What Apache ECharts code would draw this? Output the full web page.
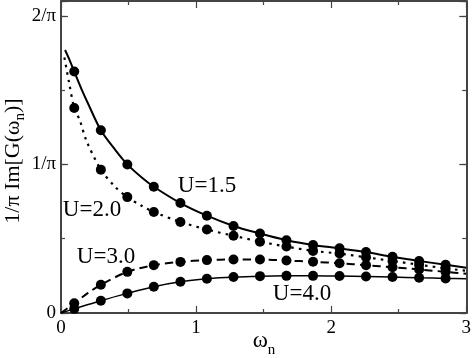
<!DOCTYPE html>
<html><head><meta charset="utf-8">
<script src="https://cdn.jsdelivr.net/npm/echarts@6/dist/echarts.min.js"></script>
<style>html,body{margin:0;padding:0;background:#fff}#c{width:474px;height:358px}</style>
</head><body><div id="c"></div>
<script>
// Matsubara frequencies of the dots
const wn = [0.098,0.295,0.491,0.687,0.884,1.080,1.277,1.473,1.669,1.866,2.062,2.258,2.454,2.651,2.847];
// dot values (units of 1/pi)
const dotsU15 = [1.625,1.23,1.0,0.85,0.74,0.655,0.586,0.535,0.49,0.458,0.435,0.41,0.378,0.35,0.325];
const dotsU20 = [1.38,0.965,0.78,0.68,0.613,0.562,0.52,0.48,0.447,0.418,0.40,0.375,0.35,0.325,0.30];
const dotsU30 = [0.065,0.19,0.277,0.322,0.344,0.356,0.36,0.36,0.353,0.345,0.335,0.322,0.308,0.293,0.277];
const dotsU40 = [0.028,0.083,0.132,0.177,0.21,0.23,0.242,0.248,0.25,0.25,0.249,0.246,0.242,0.237,0.233];
// continuous curves
const lineU15x = [0.03,0.06,0.098,0.15,0.2,0.295,0.4,0.491,0.6,0.687,0.884,1.08,1.277,1.473,1.669,1.866,2.062,2.258,2.454,2.651,2.847,3.0];
const lineU15y = [1.77,1.71,1.625,1.51,1.41,1.23,1.1,1.0,0.91,0.85,0.74,0.655,0.586,0.535,0.49,0.458,0.435,0.41,0.378,0.35,0.325,0.305];
const lineU20x = [0.025,0.06,0.098,0.14,0.188,0.295,0.4,0.491,0.6,0.687,0.884,1.08,1.277,1.473,1.669,1.866,2.062,2.258,2.454,2.651,2.847,3.0];
const lineU20y = [1.72,1.55,1.38,1.295,1.16,0.965,0.85,0.78,0.72,0.68,0.613,0.562,0.52,0.48,0.447,0.418,0.40,0.375,0.35,0.325,0.30,0.285];
const lineU30x = [0,0.098,0.2,0.295,0.491,0.687,0.884,1.08,1.277,1.473,1.669,1.866,2.062,2.258,2.454,2.651,2.847,3.0];
const lineU30y = [0,0.065,0.135,0.19,0.277,0.322,0.344,0.356,0.36,0.36,0.353,0.345,0.335,0.322,0.308,0.293,0.277,0.264];
const lineU40x = [0,0.098,0.295,0.491,0.687,0.884,1.08,1.277,1.473,1.669,1.866,2.062,2.258,2.454,2.651,2.847,3.0];
const lineU40y = [0,0.028,0.083,0.132,0.177,0.21,0.23,0.242,0.248,0.25,0.25,0.249,0.246,0.242,0.237,0.233,0.23];
const xTicks = ['0','1','2','3'];
const yTicks = ['0','1/π','2/π'];
const labels = [
  {text:'U=1.5', x:207, y:186},
  {text:'U=2.0', x:92, y:210},
  {text:'U=3.0', x:106, y:257},
  {text:'U=4.0', x:302, y:294}
];
const yTitle = ['1/π Im[G(ω', 'n', ')]'];
const xTitle = ['ω', 'n', ''];

const FONT = '"Liberation Serif","DejaVu Serif",serif';
const AX = '#444';
const zip = (a,b) => a.map((v,i)=>[v,b[i]]);

const mctx = document.createElement('canvas').getContext('2d');
function tw(t, size){ mctx.font = size+'px '+FONT; return mctx.measureText(t).width; }
// build [main, sub, main] pieces centered at (cx,cy), rotated
function subTitle(parts, cx, cy, rot, size, subSize, drop){
  const w0 = tw(parts[0],size), w1 = tw(parts[1],subSize), w2 = tw(parts[2],size);
  const total = w0+w1+w2;
  let x = -total/2;
  const kids = [];
  kids.push({type:'text', x:x, y:0, style:{text:parts[0], font:size+'px '+FONT, fill:'#000', align:'left', verticalAlign:'middle'}});
  x += w0;
  kids.push({type:'text', x:x, y:drop, style:{text:parts[1], font:subSize+'px '+FONT, fill:'#000', align:'left', verticalAlign:'middle'}});
  x += w1;
  if (parts[2]) kids.push({type:'text', x:x, y:0, style:{text:parts[2], font:size+'px '+FONT, fill:'#000', align:'left', verticalAlign:'middle'}});
  return {type:'group', x:cx, y:cy, rotation:rot, children:kids};
}

const chart = echarts.init(document.getElementById('c'), null, {renderer:'canvas'});
const baseX = {
  type:'value', min:0, max:3, interval:1,
  splitLine:{show:false},
  axisLine:{show:true, onZero:false, lineStyle:{color:AX, width:2}},
  axisTick:{show:true, inside:true, length:7, lineStyle:{color:AX, width:1.2}},
  minorTick:{show:true, splitNumber:2, length:4, lineStyle:{color:AX, width:1.2}},
  minorSplitLine:{show:false}
};
const baseY = (pos, interval, len, showLabel, showLine) => ({
  type:'value', position:pos, min:0, max:2.1, interval:interval,
  splitLine:{show:false},
  axisLine:{show:showLine, onZero:false, lineStyle:{color:AX, width:2}},
  axisTick:{show:true, inside:true, length:len, lineStyle:{color:AX, width:1.2}},
  axisLabel:{show:showLabel, fontFamily:FONT, fontSize:19, color:'#000', margin:5,
    formatter: v => (Math.abs(v-Math.round(v))<1e-6 && yTicks[Math.round(v)]!==undefined) ? yTicks[Math.round(v)] : ''}
});

const series = [];
const lineDefs = [
  [lineU15x,lineU15y,'solid',2],
  [lineU20x,lineU20y,[2.5,5],2.2],
  [lineU30x,lineU30y,[8,5],2],
  [lineU40x,lineU40y,'solid',1.5]
];
lineDefs.forEach(d => series.push({
  type:'line', data:zip(d[0],d[1]), smooth:0.3, showSymbol:false, symbol:'none',
  lineStyle:{color:'#000', width:d[3], type:d[2]}, xAxisIndex:0, yAxisIndex:0, silent:true, z:2
}));
[dotsU15,dotsU20,dotsU30,dotsU40].forEach(d => series.push({
  type:'scatter', data:zip(wn,d), symbol:'circle', symbolSize:10,
  itemStyle:{color:'#000', opacity:1}, xAxisIndex:0, yAxisIndex:0, silent:true, z:3
}));

chart.setOption({
  animation:false,
  backgroundColor:'#fff',
  grid:{left:61, top:1, width:409, height:312, containLabel:false},
  xAxis:[
    Object.assign({}, baseX, {position:'bottom',
      axisLabel:{show:true, fontFamily:FONT, fontSize:19, color:'#000', margin:6,
        formatter: v => xTicks[Math.round(v)] || ''}}),
    Object.assign({}, baseX, {position:'top', axisLabel:{show:false}})
  ],
  yAxis:[
    baseY('left',1,7,true,true),
    baseY('left',0.5,4,false,false),
    baseY('right',1,7,false,true),
    baseY('right',0.5,4,false,false)
  ],
  series:series,
  graphic:[
    subTitle(yTitle, 13, 161, Math.PI/2, 22, 15, 7),
    subTitle(xTitle, 264, 341, 0, 23, 15, 9)
  ].concat(labels.map(l => ({type:'text', x:l.x, y:l.y,
      style:{text:l.text, font:'23px '+FONT, fill:'#000', align:'center', verticalAlign:'middle'}})))
});
</script></body></html>
